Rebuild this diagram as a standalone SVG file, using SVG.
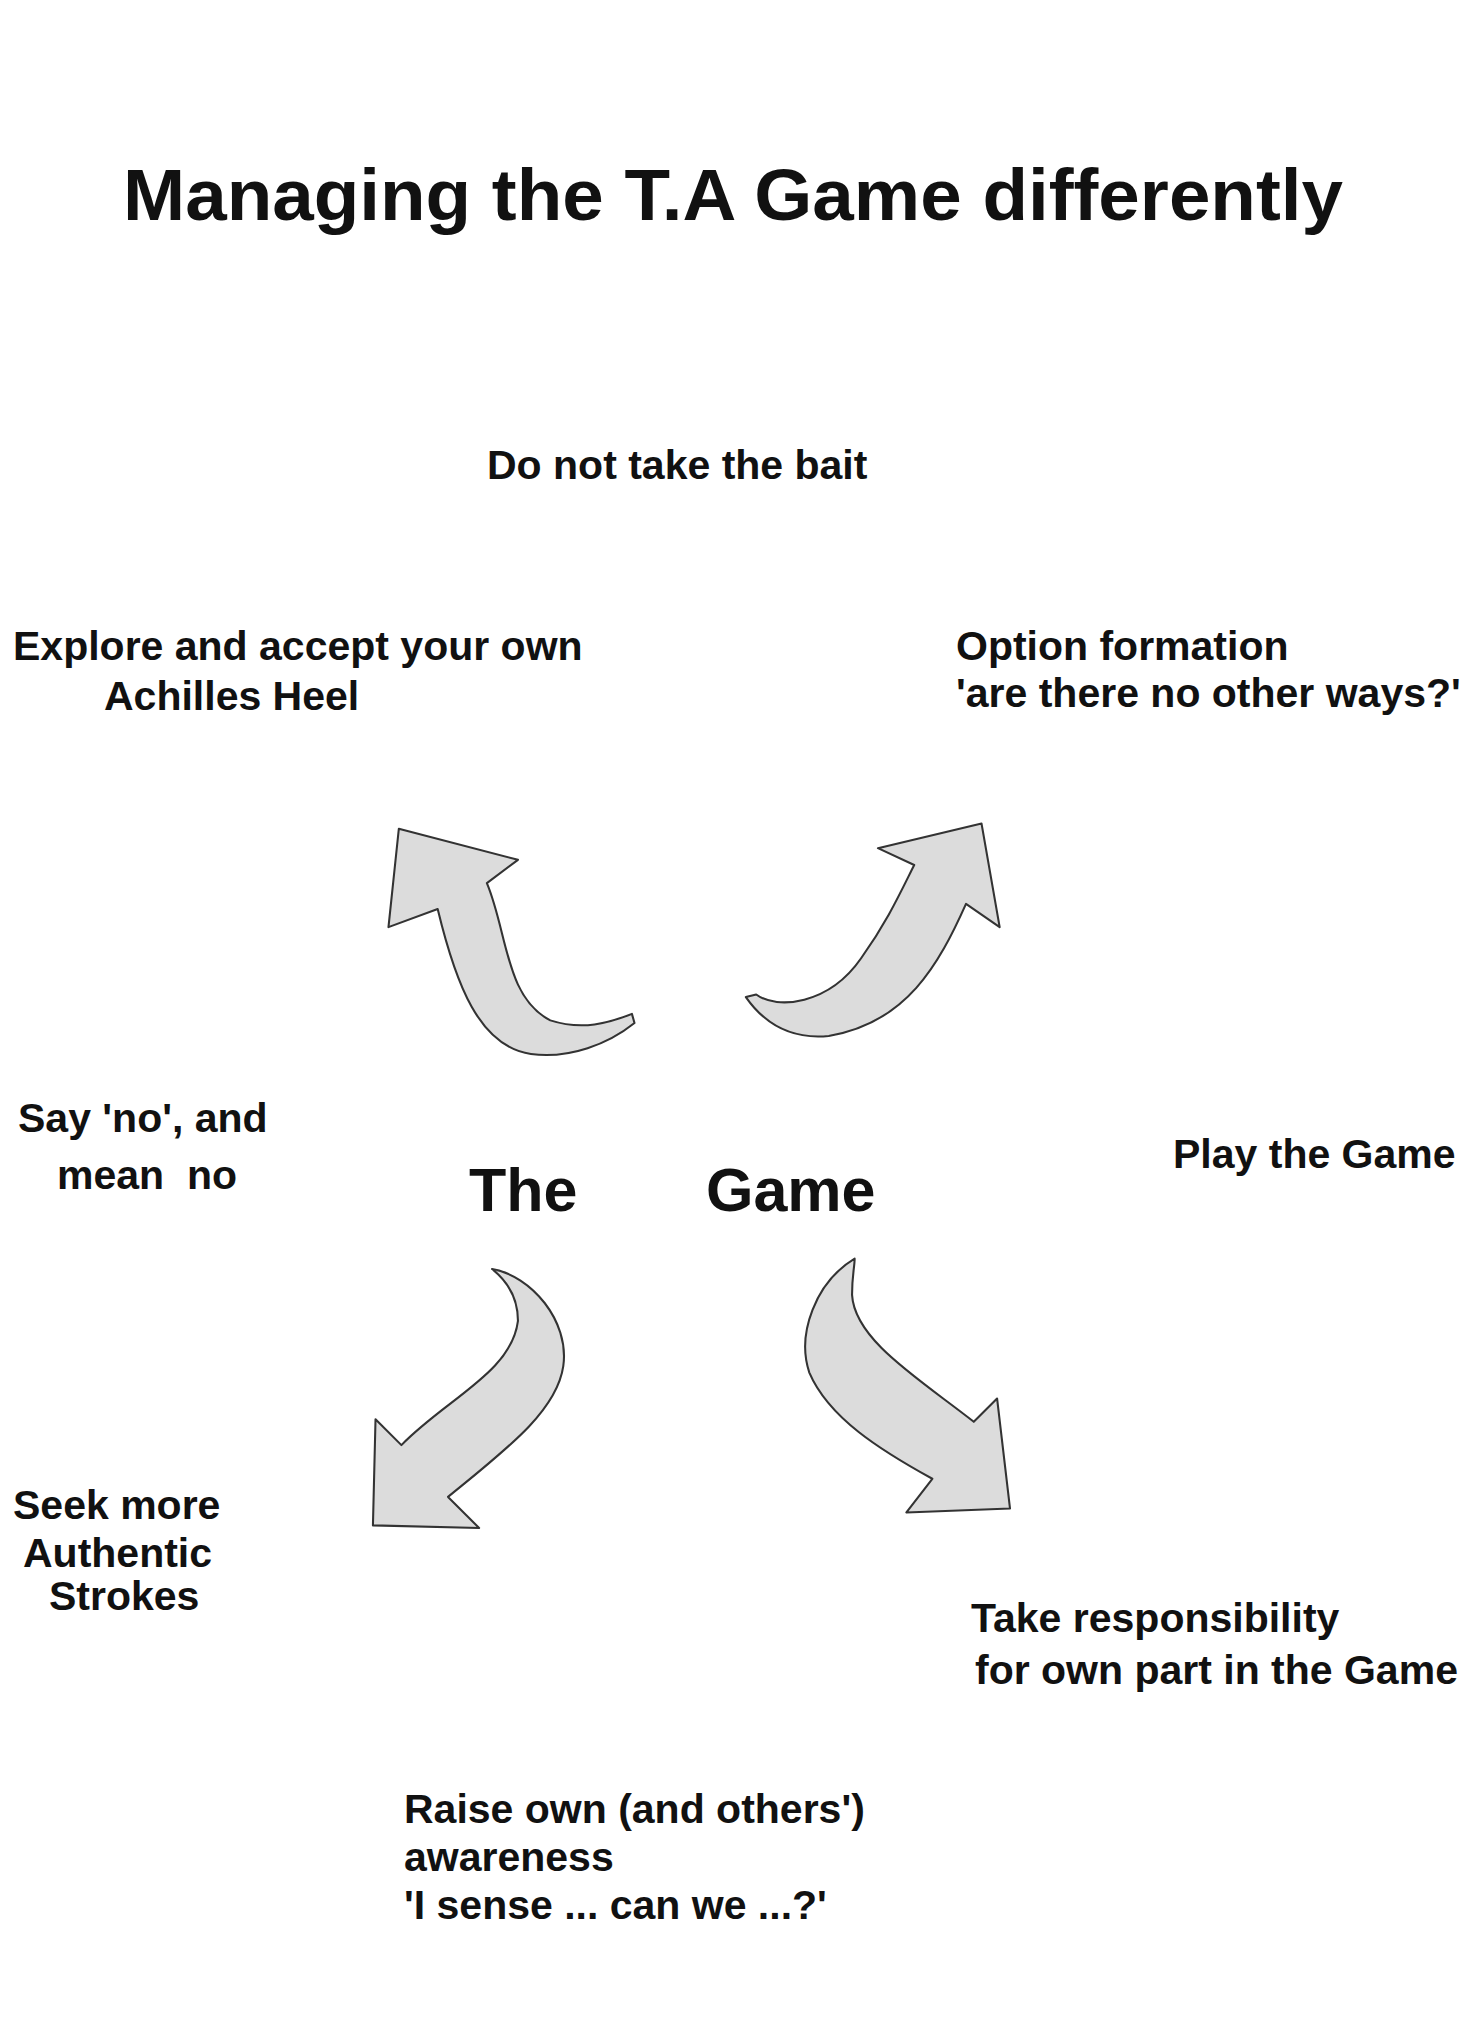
<svg xmlns="http://www.w3.org/2000/svg" width="1471" height="2031" viewBox="0 0 1471 2031">
<style>
.t{font-family:"Liberation Sans",Arial,sans-serif;font-weight:bold;fill:#111;font-size:41px}
.ti{font-size:72px}
.g{font-size:61px}
.a{fill:#dcdcdc;stroke:#333;stroke-width:1.6;stroke-linejoin:round}
</style>
<rect width="1471" height="2031" fill="#fff"/>
<text class="t ti" x="123" y="220" textLength="1220" lengthAdjust="spacingAndGlyphs">Managing the T.A Game differently</text>
<g id="bait"><text class="t" x="487" y="479">Do not take the bait</text></g>
<g id="achilles"><text class="t" x="13" y="660">Explore and accept your own</text><text class="t" x="104" y="710">Achilles Heel</text></g>
<g id="option"><text class="t" x="956" y="660">Option formation</text><text class="t" x="956" y="707">'are there no other ways?'</text></g>
<g id="sayno"><text class="t" x="18" y="1132">Say 'no', and</text><text class="t" x="57" y="1189" xml:space="preserve">mean  no</text></g>
<g id="the"><text class="t g" x="469" y="1211">The</text></g>
<g id="game"><text class="t g" x="706" y="1211">Game</text></g>
<g id="play"><text class="t" x="1173" y="1168">Play the Game</text></g>
<g id="seek"><text class="t" x="13" y="1519">Seek more</text><text class="t" x="23" y="1567">Authentic</text><text class="t" x="49" y="1610">Strokes</text></g>
<g id="take"><text class="t" x="971" y="1632">Take responsibility</text><text class="t" x="975" y="1684">for own part in the Game</text></g>
<g id="raise"><text class="t" x="404" y="1823">Raise own (and others')</text><text class="t" x="404" y="1871">awareness</text><text class="t" x="404" y="1919">'I sense ... can we ...?'</text></g>
<g id="connectors" transform="scale(1.2949)">
<path class="a" d="M308,640 L400,664 L376,682 C392,720 390,770 425,788 C450,796 470,790 488,783 L490,790 C470,806 440,818 410,814 C370,808 352,760 338,702 L300,716 Z"/>
<path class="a" d="M758,636 L772,716 L746,698 C725,745 700,790 640,800 C610,803 590,790 576,770 L584,768 C600,780 640,776 665,740 C685,712 695,690 706,668 L678,655 Z"/>
<path class="a" d="M288,1178 L290,1096 L310,1116 C345,1080 395,1060 400,1020 C400,1000 390,988 380,980 C410,985 440,1020 435,1055 C430,1090 390,1120 346,1156 L370,1180 Z"/>
<path class="a" d="M780,1165 L770,1080 L752,1098 C710,1065 660,1035 658,1000 C658,985 660,978 660,972 C630,990 615,1030 625,1060 C640,1095 680,1120 720,1142 L700,1168 Z"/>
</g>
</svg>
